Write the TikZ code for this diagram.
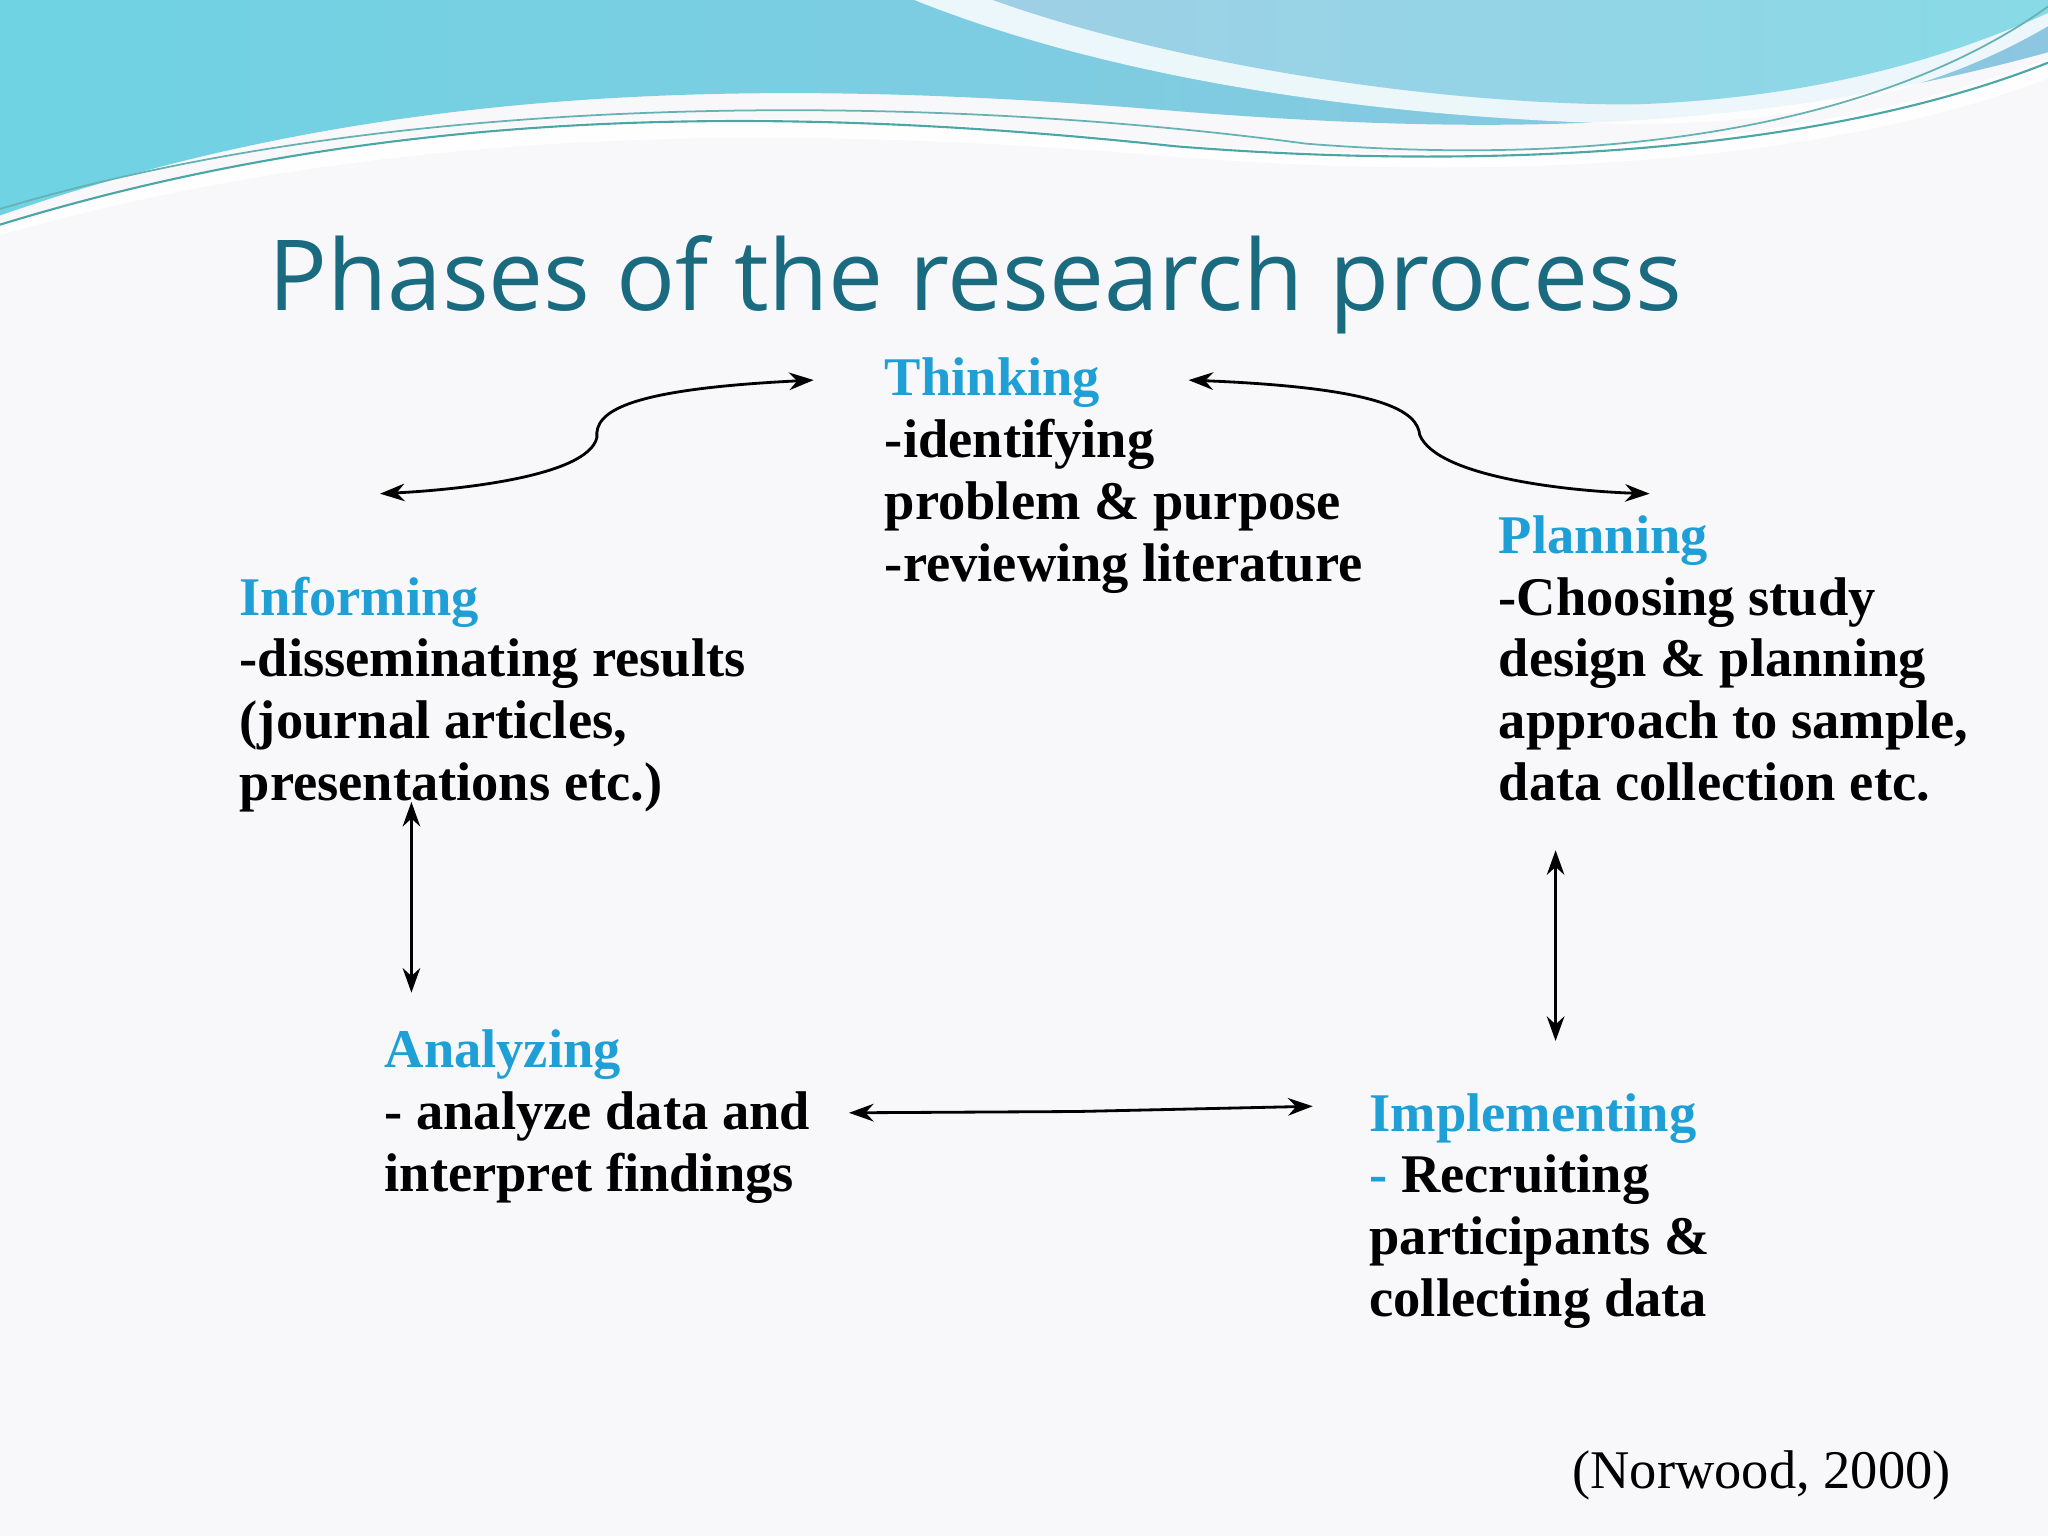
\documentclass[tikz,border=0pt]{standalone}
\usepackage{fontspec}
\setmainfont{Liberation Serif}
\newfontfamily\titlefont{Open Sans}
\usetikzlibrary{arrows.meta}
\definecolor{titlecol}{HTML}{1A6A80}
\definecolor{headcol}{HTML}{1E9FD6}
\definecolor{bgcol}{HTML}{F8F8FB}
\definecolor{waveA}{HTML}{6FD3E3}
\definecolor{waveB}{HTML}{8CC6E0}
\tikzset{
  body/.style={anchor=base west,align=left,inner sep=0pt,font=\bfseries\fontsize{15.5}{17.6}\selectfont,text=black},
  conn2/.style={{Stealth[length=7pt,width=5pt]}-{Stealth[length=7pt,width=5pt]},line width=0.8pt}
}
\newcommand{\hd}[1]{\textcolor{headcol}{#1}}
\begin{document}
\begin{tikzpicture}[x=0.013061cm,y=-0.013061cm]
\useasboundingbox (0,0) rectangle (1568,1176);
\fill[bgcol] (0,0) rectangle (1568,1176);
% top waves
\shade[left color=waveA,right color=waveB] (0,0) -- (0,165) .. controls (300,60) and (600,60) .. (900,85) .. controls (1150,105) and (1350,100) .. (1568,40) -- (1568,0) -- cycle;
\fill[white,opacity=0.85] (700,0) .. controls (850,60) and (1050,90) .. (1250,95) .. controls (1400,95) and (1500,60) .. (1568,20) -- (1568,0) -- cycle;
\shade[left color=waveB,right color=waveA,opacity=0.8] (760,0) .. controls (900,50) and (1100,80) .. (1250,80) .. controls (1400,75) and (1500,40) .. (1568,10) -- (1568,0) -- cycle;
\fill[white,opacity=0.9] (0,175) .. controls (300,75) and (600,80) .. (900,110) .. controls (1150,130) and (1400,110) .. (1568,45) -- (1568,60) .. controls (1400,125) and (1150,140) .. (900,120) .. controls (600,95) and (300,95) .. (0,180) -- cycle;
\draw[teal!70,line width=0.6pt] (0,172) .. controls (300,80) and (600,80) .. (900,112) .. controls (1150,132) and (1400,115) .. (1568,48);
\draw[teal!60,line width=0.5pt] (0,160) .. controls (300,70) and (700,70) .. (1000,110) .. controls (1250,130) and (1450,90) .. (1568,5);
% title
\node[anchor=base west,inner sep=0pt,text=titlecol,font=\titlefont\fontsize{27.9}{34}\selectfont] (title) at (205,238) {Phases of the research process};
% text blocks (anchored at last-line baseline)
\node[body] (think) at (677,445) {\hd{Thinking}\\-identifying\\problem \& purpose\\-reviewing literature};
\node[body] (plan) at (1147,613) {\hd{Planning}\\-Choosing study\\design \& planning\\approach to sample,\\data collection etc.};
\node[body] (inform) at (183,613) {\hd{Informing}\\-disseminating results\\(journal articles,\\presentations etc.)};
\node[body] (analyze) at (294,912) {\hd{Analyzing}\\- analyze data and\\interpret findings};
\node[body] (impl) at (1048,1008) {\hd{Implementing}\\\hd{-} Recruiting\\participants \&\\collecting data};
\node[anchor=base east,inner sep=0pt,font=\fontsize{15.5}{18}\selectfont] (cite) at (1494,1140) {(Norwood, 2000)};
% connector endpoints
\coordinate (t1) at (623,291); \coordinate (i1) at (291,378);
\coordinate (t2) at (910,291); \coordinate (p1) at (1263,378);
\coordinate (p2) at (1191,651); \coordinate (m1) at (1191,797);
\coordinate (a1) at (650,852); \coordinate (m2) at (1005,847);
\coordinate (i2) at (315,614); \coordinate (a2) at (315,760);
\draw[conn2] (t1) .. controls (480,298) and (455,315) .. (457,335) .. controls (450,365) and (350,375) .. (i1);
\draw[conn2] (t2) .. controls (1060,297) and (1085,315) .. (1087,333) .. controls (1100,365) and (1200,376) .. (p1);
\draw[conn2] (p2) -- (m1);
\draw[conn2] (a1) -- (825,851) -- (m2);
\draw[conn2] (i2) -- (a2);
\end{tikzpicture}
\end{document}
